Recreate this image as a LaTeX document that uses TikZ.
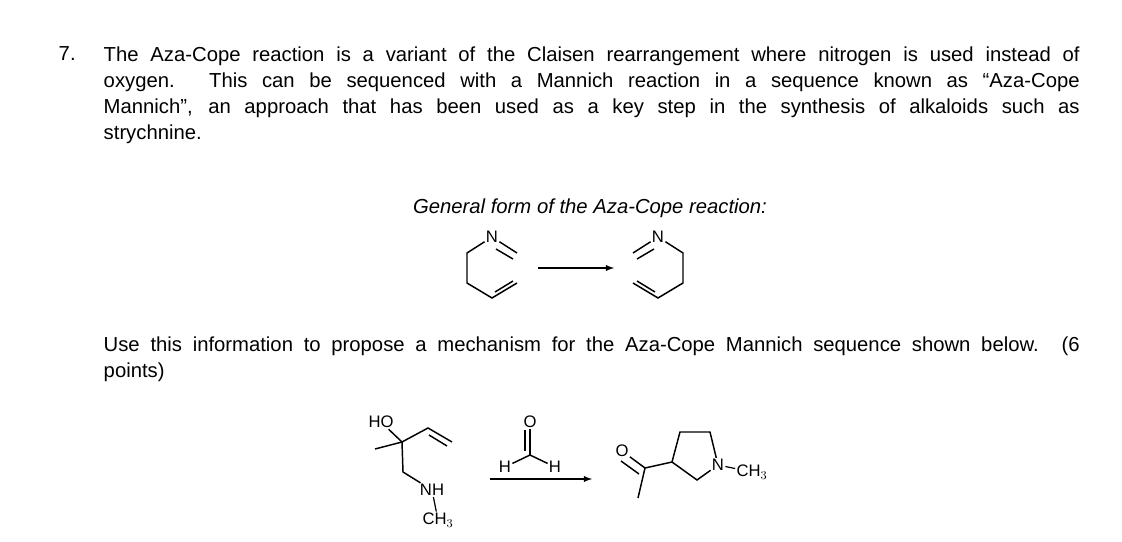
\documentclass[tikz,border=0pt]{standalone}
\usepackage{fontspec}
\setmainfont{Liberation Sans}
\usepackage{ragged2e}
\begin{document}
\begin{tikzpicture}[x=0.75pt,y=-0.75pt,line width=1.1pt,
  atom/.style={inner sep=0.5pt,font=\fontsize{12.5}{14}\selectfont},
  txt/.style={anchor=north west,inner sep=0,font=\fontsize{15.2}{19.5}\selectfont}]
\useasboundingbox (0,0) rectangle (1122,542);
\node[txt] (num) at (58,46) {7.};
\node[txt,text width=732pt,align=justify] (para) at (103,46) {The Aza-Cope reaction is a variant of the Claisen rearrangement where nitrogen is used instead of\linebreak oxygen. This can be sequenced with a Mannich reaction in a sequence known as “Aza-Cope\linebreak Mannich”, an approach that has been used as a key step in the synthesis of alkaloids such as\linebreak strychnine.};
\node[font=\fontsize{15.2}{19.5}\selectfont\itshape,inner sep=0] (cap) at (590,208) {General form of the Aza-Cope reaction:};
\node[txt,text width=732pt,align=justify] (use) at (103,336) {Use this information to propose a mechanism for the Aza-Cope Mannich sequence shown below. (6\linebreak points)};
% left ring
\node[atom] (n1) at (492,237) {N};
\draw (n1) -- (467,253) -- (467,283) -- (492,298) -- (517,283);
\draw (n1) -- (517,253);
\draw (496,249) -- (513,259);
\draw (495,292) -- (513,281);
\coordinate (a1) at (538,268); \coordinate (a2) at (614,268);
\draw[-latex] (a1) -- (a2);
% right ring
\node[atom] (n2) at (658,237) {N};
\draw (n2) -- (683,253) -- (683,283) -- (658,298) -- (633,283);
\draw (n2) -- (633,253);
\draw (654,249) -- (637,259);
\draw (655,292) -- (637,281);
% reactant
\node[atom] (ho) at (381,422) {HO};
\coordinate (c1) at (402,442);
\draw (ho) -- (c1);
\draw (375,449) -- (c1) -- (428,428) -- (452,442);
\draw (429,435) -- (447,446);
\node[atom] (nh) at (432,490) {NH};
\draw (c1) -- (403,472) -- (nh);
\node[atom] (me1) at (438,520) {CH$_3$};
\draw[line width=0.9pt] (nh) -- (me1);
% formaldehyde
\node[atom] (o1) at (530,422) {O};
\coordinate (cf) at (530,455);
\draw (o1) -- (cf);
\draw (525,430) -- (525,451);
\node[atom] (h1) at (505,467) {H};
\node[atom] (h2) at (555,467) {H};
\draw (h1) -- (cf) -- (h2);
\coordinate (b1) at (490,479); \coordinate (b2) at (592,479);
\draw[-latex] (b1) -- (b2);
% product
\node[atom] (o2) at (622,451) {O};
\coordinate (cc) at (645,468);
\draw (o2) -- (cc);
\draw (621,461) -- (639,474);
\draw (638,498) -- (cc) -- (672,462);
\node[atom] (n3) at (718,465) {N};
\draw (672,462) -- (680,432) -- (710,432) -- (n3) -- (697,480) -- (672,462);
\node[atom] (me2) at (752,472) {CH$_3$};
\draw[line width=0.9pt] (n3) -- (me2);
\end{tikzpicture}
\end{document}
